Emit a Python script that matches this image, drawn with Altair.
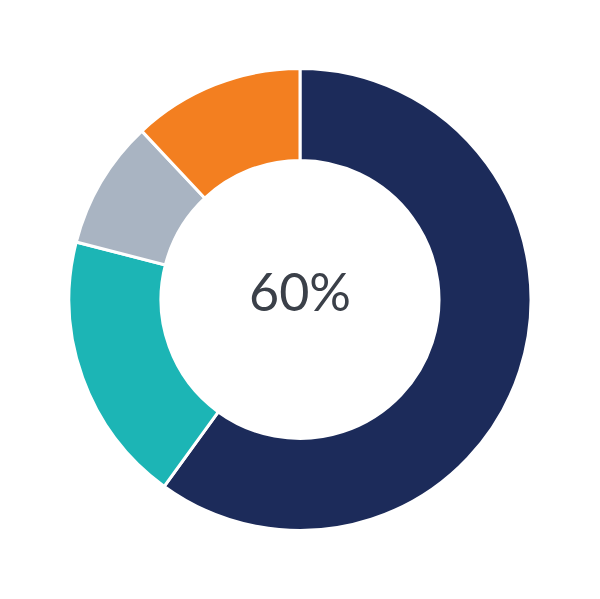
import altair as alt
import pandas as pd

categories = ["A", "B", "C", "D"]
values = [60, 19, 9, 12]
colors = ["#1c2b5a", "#1cb5b5", "#a9b4c2", "#f37f20"]
center_label = ["60%"]

df = pd.DataFrame({"category": categories, "value": values, "order": list(range(len(categories)))})

donut = alt.Chart(df).mark_arc(innerRadius=139, outerRadius=231, stroke="white", strokeWidth=3).encode(
    theta=alt.Theta("value:Q", stack=True),
    color=alt.Color("category:N", scale=alt.Scale(domain=categories, range=colors), legend=None),
    order=alt.Order("order:Q"),
)

text = alt.Chart(pd.DataFrame({"label": center_label})).mark_text(
    font="Lato", fontSize=52, fontWeight="normal", color="#3b4049", baseline="middle", align="center"
).encode(text="label:N", x=alt.value(292), y=alt.value(287))

chart = alt.layer(donut, text).properties(
    width=584, height=583,
    autosize=alt.AutoSizeParams(type="fit", contains="padding"),
    padding=0,
).configure_view(stroke=None)

chart.save("out.html", embed_options={"renderer": "svg", "actions": False})
